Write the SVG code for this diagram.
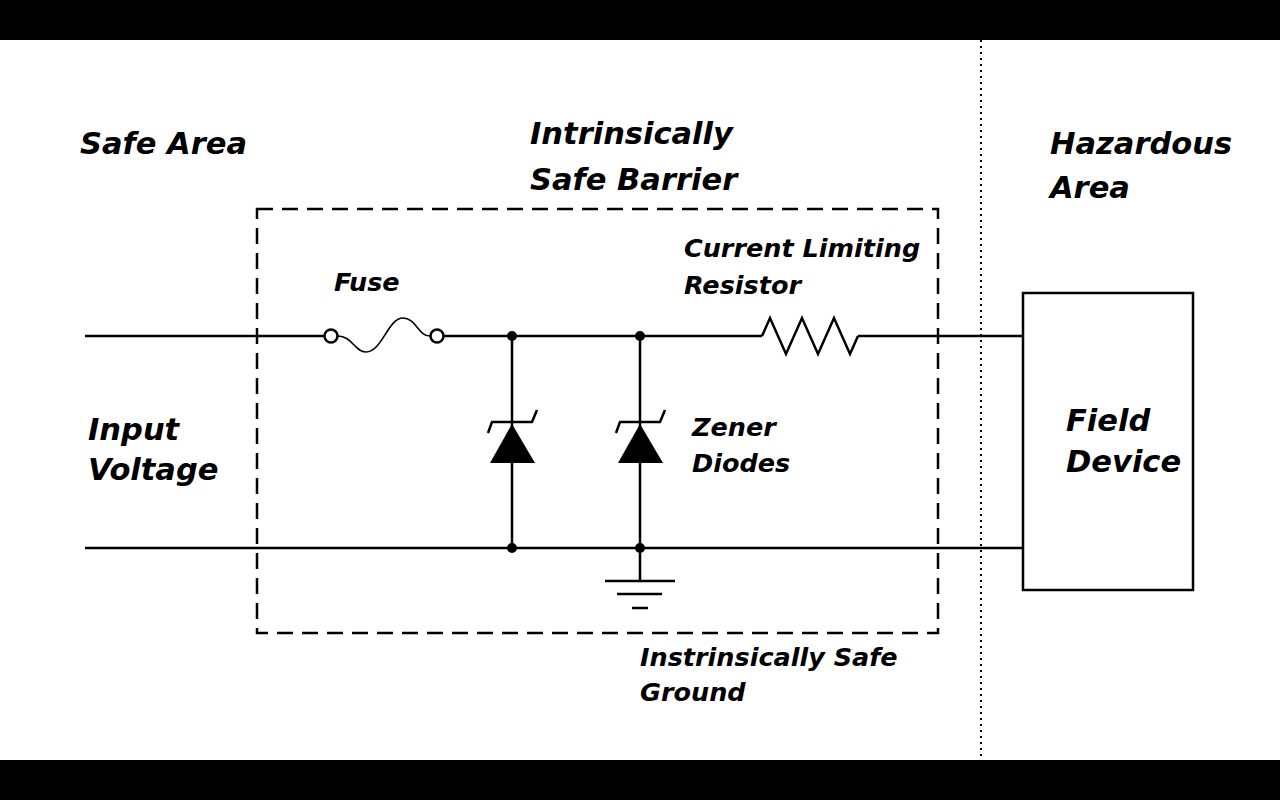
<svg xmlns="http://www.w3.org/2000/svg" width="1280" height="800" viewBox="0 0 1280 800">
<style>
.w{stroke:#000;stroke-width:2.5;fill:none}
.t{font-family:"DejaVu Sans",Verdana,sans-serif;font-weight:bold;font-style:italic;fill:#000}
.big{font-size:30.5px}
.sm{font-size:25.5px}
</style>
<rect width="1280" height="800" fill="#fff"/>
<rect width="1280" height="40" fill="#000"/>
<rect y="760" width="1280" height="40" fill="#000"/>
<line x1="981" y1="40" x2="981" y2="760" stroke="#000" stroke-width="2" stroke-dasharray="2,4"/>
<rect id="barrier" x="257" y="209" width="681" height="424" fill="none" stroke="#000" stroke-width="2.5" stroke-dasharray="16,9"/>
<g id="connectors" class="w">
<path d="M85 336H325M443 336H762M858 336H1023"/>
<path d="M85 548H1023"/>
<path d="M512 336V548M640 336V548M640 548V581"/>
</g>
<g id="fuse">
<circle cx="331" cy="336" r="6.5" class="w" fill="#fff"/>
<circle cx="437" cy="336" r="6.5" class="w" fill="#fff"/>
<path d="M338 336C352 336 355 352 366 352C382 352 388 318 403 318C416 318 418 336 430 336" stroke="#000" stroke-width="1.6" fill="none"/>
</g>
<g id="diode1">
<polygon points="512,424 490,463 535,463" fill="#000"/>
<path d="M488 433L492 422H532L537 410" class="w"/>
</g>
<g id="diode2">
<polygon points="640,424 618,463 663,463" fill="#000"/>
<path d="M616 433L620 422H660L665 410" class="w"/>
</g>
<g fill="#000">
<circle cx="512" cy="336" r="5"/><circle cx="640" cy="336" r="5"/>
<circle cx="512" cy="548" r="5"/><circle cx="640" cy="548" r="5"/>
</g>
<g id="ground" class="w" stroke-width="3">
<path d="M605 581H675M617 594H662M632 608H648"/>
</g>
<g id="resistor">
<path d="M762 336L770 318L786 354L802 318L818 354L834 318L850 354L858 336" class="w"/>
</g>
<g id="field-device">
<rect x="1023" y="293" width="170" height="297" class="w"/>
<text class="t big" x="1066" y="431">Field</text>
<text class="t big" x="1066" y="472">Device</text>
</g>
<text class="t big" x="80" y="154">Safe Area</text>
<text class="t big" x="530" y="144">Intrinsically</text>
<text class="t big" x="530" y="190">Safe Barrier</text>
<text class="t big" x="1050" y="154">Hazardous</text>
<text class="t big" x="1050" y="198">Area</text>
<text class="t sm" x="334" y="291">Fuse</text>
<text class="t sm" x="684" y="257">Current Limiting</text>
<text class="t sm" x="684" y="294">Resistor</text>
<text class="t big" x="88" y="440">Input</text>
<text class="t big" x="88" y="480">Voltage</text>
<text class="t sm" x="692" y="436">Zener</text>
<text class="t sm" x="692" y="472">Diodes</text>
<text class="t sm" x="640" y="666">Instrinsically Safe</text>
<text class="t sm" x="640" y="701">Ground</text>
</svg>
